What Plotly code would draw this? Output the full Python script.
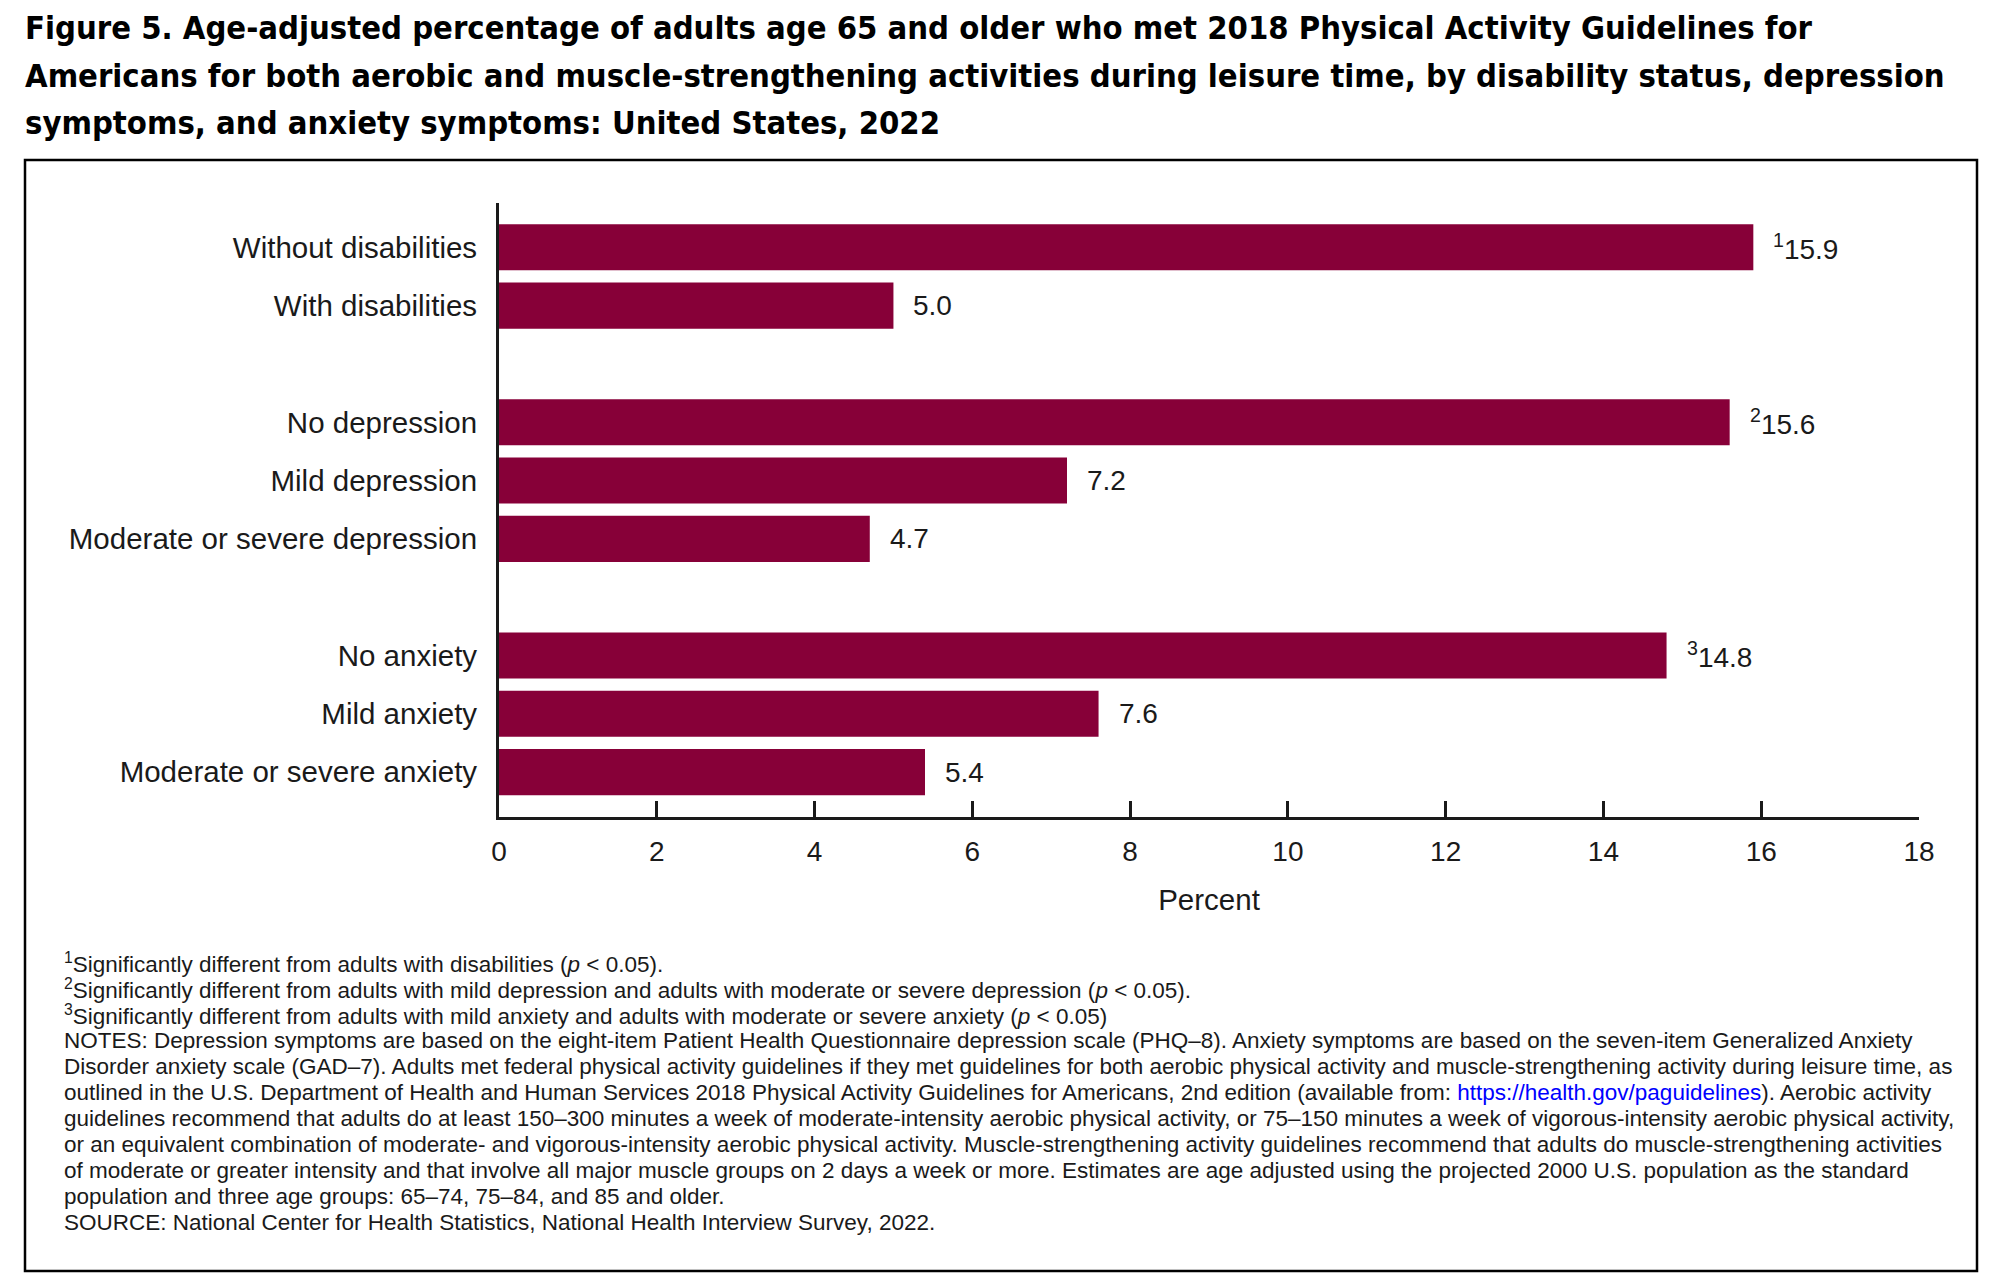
import plotly.graph_objects as go

# values
categories = ["Without disabilities", "With disabilities",
              "No depression", "Mild depression", "Moderate or severe depression",
              "No anxiety", "Mild anxiety", "Moderate or severe anxiety"]
slots = [0, 1, 3, 4, 5, 7, 8, 9]          # row of each bar, gaps between groups
percent = [15.9, 5.0, 15.6, 7.2, 4.7, 14.8, 7.6, 5.4]
marks = ["1", "", "2", "", "", "3", "", ""]
x_ticks = [0, 2, 4, 6, 8, 10, 12, 14, 16, 18]

title_lines = [
    "Figure 5. Age-adjusted percentage of adults age 65 and older who met 2018 Physical Activity Guidelines for",
    "Americans for both aerobic and muscle-strengthening activities during leisure time, by disability status, depression",
    "symptoms, and anxiety symptoms: United States, 2022",
]

note_lines = [
    "<sup>1</sup>Significantly different from adults with disabilities (<i>p</i> < 0.05).",
    "<sup>2</sup>Significantly different from adults with mild depression and adults with moderate or severe depression (<i>p</i> < 0.05).",
    "<sup>3</sup>Significantly different from adults with mild anxiety and adults with moderate or severe anxiety (<i>p</i> < 0.05)",
    "NOTES: Depression symptoms are based on the eight-item Patient Health Questionnaire depression scale (PHQ–8). Anxiety symptoms are based on the seven-item Generalized Anxiety",
    "Disorder anxiety scale (GAD–7). Adults met federal physical activity guidelines if they met guidelines for both aerobic physical activity and muscle-strengthening activity during leisure time, as",
    "outlined in the U.S. Department of Health and Human Services 2018 Physical Activity Guidelines for Americans, 2nd edition (available from: <span style='color:#0000ff'>https://health.gov/paguidelines</span>). Aerobic activity",
    "guidelines recommend that adults do at least 150–300 minutes a week of moderate-intensity aerobic physical activity, or 75–150 minutes a week of vigorous-intensity aerobic physical activity,",
    "or an equivalent combination of moderate- and vigorous-intensity aerobic physical activity. Muscle-strengthening activity guidelines recommend that adults do muscle-strengthening activities",
    "of moderate or greater intensity and that involve all major muscle groups on 2 days a week or more. Estimates are age adjusted using the projected 2000 U.S. population as the standard",
    "population and three age groups: 65–74, 75–84, and 85 and older.",
    "SOURCE: National Center for Health Statistics, National Health Interview Survey, 2022.",
]

W, H = 1994, 1286
OFF = 8   # page body margin pushes the figure down/right
L, R, T, B = 499 - OFF, 75 + OFF, 203 - OFF, 469 + OFF
PW, PH = W - L - R, H - T - B
BAR = "#870038"
INK = "#1a1a1a"
SANS = "Liberation Sans, Arial, Helvetica, sans-serif"
NARROW = "Liberation Sans Narrow, Arial Narrow, DejaVu Sans Condensed, sans-serif"


def px_x(px):
    return (px - OFF - L) / PW


def px_y(py):
    return (H - B - (py - OFF)) / PH


fig = go.Figure()
fig.add_trace(go.Bar(
    x=percent, y=slots, orientation="h", width=0.79,
    marker=dict(color=BAR, line=dict(width=0)),
    hoverinfo="skip",
))

for v, s, m in zip(percent, slots, marks):
    txt = (f"<sup>{m}</sup>" if m else "") + f"{v:.1f}"
    fig.add_annotation(x=v, y=s, text=txt, showarrow=False, xanchor="left",
                       yanchor="middle", xshift=18,
                       font=dict(family=SANS, size=28, color=INK))

# title, one annotation per line
for i, line in enumerate(title_lines):
    fig.add_annotation(xref="paper", yref="paper", x=px_x(23), y=px_y(28 + i * 47.7),
                       text=f"<b>{line}</b>", showarrow=False, xanchor="left",
                       yanchor="middle", align="left",
                       font=dict(family=NARROW, size=32.5, color="#000000"))

for i, line in enumerate(note_lines):
    fig.add_annotation(xref="paper", yref="paper", x=px_x(62), y=px_y(963 + i * 25.95),
                       text=line, showarrow=False, xanchor="left",
                       yanchor="middle", align="left",
                       font=dict(family=SANS, size=22.5, color=INK))

# frame around chart and notes
fig.add_shape(type="rect", xref="paper", yref="paper",
              x0=px_x(25), x1=px_x(1977), y0=px_y(1271), y1=px_y(160),
              line=dict(color="#000000", width=2.5), fillcolor="rgba(0,0,0,0)")

fig.update_layout(
    width=W, height=H,
    margin=dict(l=L, r=R, t=T, b=B, pad=0),
    paper_bgcolor="white", plot_bgcolor="white",
    showlegend=False,
    font=dict(family=SANS, color=INK),
    xaxis=dict(
        range=[0, 18], tickvals=x_ticks, ticks="inside", ticklen=16, tickwidth=3,
        tickcolor=INK, showline=True, linewidth=3, linecolor=INK, showgrid=False,
        zeroline=False, tickfont=dict(size=28), ticklabelstandoff=7,
        title=dict(text="Percent", font=dict(size=29.5), standoff=24),
    ),
    yaxis=dict(
        range=[9.77, -0.76], tickvals=slots, ticktext=categories, ticks="",
        showline=True, linewidth=3, linecolor=INK, showgrid=False, zeroline=False,
        tickfont=dict(size=29.5), ticklabelstandoff=13,
    ),
)

fig.write_html("out.html")
